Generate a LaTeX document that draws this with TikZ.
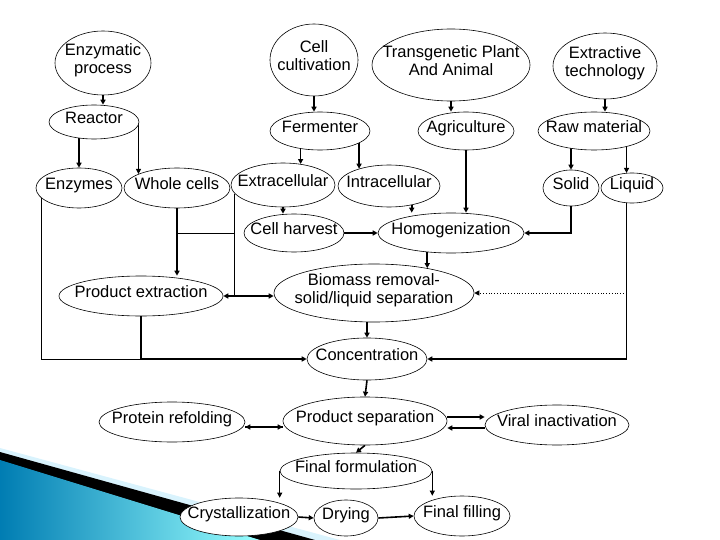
\documentclass[tikz,border=0pt]{standalone}
\usepackage{fontspec}
\setmainfont{Liberation Sans}
\usetikzlibrary{shapes.geometric,arrows.meta,calc}
\pgfdeclarelayer{deco}\pgfdeclarelayer{bg}
\pgfsetlayers{deco,bg,main}
\tikzset{
  e/.style={ellipse,draw,fill=white,inner sep=0pt,font=\fontsize{16.5}{18}\selectfont,line width=0.6pt},
  arr/.style={line width=1.6pt,-{Triangle[length=5pt,width=5pt]}},
  ln/.style={line width=0.8pt},
  tarr/.style={line width=0.8pt,-{Triangle[length=5pt,width=5pt]}},
}
\newcommand{\el}[6]{\node[e,minimum width=#4pt,minimum height=#5pt] (#1) at (#2,#3) {\raisebox{-0.3em}{\makebox[0pt]{\smash{\begin{tabular}{@{}c@{}}#6\end{tabular}}}}};}
\begin{document}
\begin{tikzpicture}[x=1pt,y=-1pt]
\useasboundingbox (0,0) rectangle (720,540);
\begin{pgfonlayer}{deco}
\fill[cyan!15] (0,448) -- (340,540) -- (0,540) -- cycle;
\fill[black] (0,452) -- (315,540) -- (0,540) -- cycle;
\shade[left color=cyan!70!blue!70!black,right color=cyan!40] (0,460) -- (260,540) -- (0,540) -- cycle;
\end{pgfonlayer}
% nodes
\el{enzp}{103}{63}{96}{64}{Enzymatic\\process}
\el{cell}{314}{60}{88}{72}{Cell\\cultivation}
\el{trans}{451}{65}{158}{72}{Transgenetic Plant\\And Animal}
\el{extr}{605}{66}{104}{66}{Extractive\\technology}
\el{reac}{94}{122}{90}{34}{Reactor}
\el{ferm}{320}{131}{100}{38}{Fermenter}
\el{agri}{466}{131}{96}{38}{Agriculture}
\el{raw}{594}{131}{112}{38}{Raw material}
\el{enzy}{79}{188}{86}{40}{Enzymes}
\el{whole}{177}{188}{106}{40}{Whole cells}
\el{extra}{283}{185}{104}{44}{Extracellular}
\el{intra}{389}{186}{102}{42}{Intracellular}
\el{solid}{571}{188}{56}{36}{Solid}
\el{liq}{632}{188}{62}{30}{Liquid}
\el{harv}{294}{233}{100}{38}{Cell harvest}
\el{homog}{451}{233}{146}{40}{Homogenization}
\el{prodext}{141}{296}{164}{40}{Product extraction}
\el{bio}{374}{293}{200}{58}{Biomass removal-\\solid/liquid separation}
\el{conc}{367}{359}{120}{42}{Concentration}
\el{prot}{172}{422}{146}{40}{Protein refolding}
\el{psep}{365}{421}{164}{48}{Product separation}
\el{viral}{557}{425}{144}{40}{Viral inactivation}
\el{ff}{356}{471}{152}{36}{Final formulation}
\el{cryst}{239}{517}{118}{38}{Crystallization}
\el{dry}{346}{518}{64}{36}{Drying}
\el{fill}{462}{516}{96}{40}{Final filling}
\begin{pgfonlayer}{bg}
\draw[arr] (enzp.south) -- (enzp.south |- reac.north);
\draw[arr] (cell.south) -- (cell.south |- ferm.north);
\draw[arr] (trans.south) -- (trans.south |- agri.north);
\draw[arr] (extr.south) -- (extr.south |- raw.north);
\draw[arr] (enzy.north |- reac) -- (enzy.north);
\draw[tarr] (whole.160 |- reac) -- (whole.160);
\draw[arr] (extra.50 |- ferm) -- (extra.50);
\draw[arr] (intra.150 |- ferm) -- (intra.150);
\draw[arr] (agri.south) -- (agri.south |- homog.north);
\draw[arr] (solid.north |- raw) -- (solid.north);
\draw[arr] (liq.110 |- raw) -- (liq.110);
\draw[arr] (extra.south) -- (extra.south |- harv.north);
\draw[arr] (intra.-40) -- (intra.-40 |- homog.north);
\draw[arr] (harv.east) -- (homog.west);
\draw[arr] (solid.south) |- (homog.east);
\draw[arr] (bio.25 |- homog) -- (bio.25);
\draw[arr] (liq.-110) |- (conc.east);
\draw[tarr,dotted] (liq.-110 |- bio.east) -- (bio.east);
\draw[arr] (conc.north |- bio) -- (conc.north);
\draw[arr] (whole.south) -- (whole.south |- prodext.north);
\draw[ln] (whole.south |- harv) -- (extra.190 |- harv);
\coordinate (j) at (extra.190 |- prodext.east);
\draw[ln] (extra.190) -- (j);
\draw[arr] (j) -- (prodext.east);
\draw[arr] (j) -- (bio.west |- j);
\draw[ln] (enzy.195) -- (enzy.195 |- conc) -- (prodext.south |- conc);
\draw[arr] (prodext.south) |- (conc.west);
\draw[arr] (conc.south) -- (psep.north);
\draw[arr] ([yshift=-5pt]prot.east) -- ([yshift=-5pt]prot.east -| psep.west);
\draw[arr] ([yshift=-5pt]psep.west |- prot.east) -- ([yshift=-5pt]prot.east);
\draw[arr] ([yshift=4pt]psep.east) -- ([yshift=4pt]psep.east -| viral.west);
\draw[arr] ([yshift=-7pt]psep.east -| viral.west) -- ([yshift=-7pt]psep.east);
\draw[arr] (psep.south) -- (ff.north);
\draw[ln,-{Triangle[length=5pt,width=5pt]}] (ff.west) -- (ff.west |- cryst.north);
\draw[ln,-{Triangle[length=5pt,width=5pt]}] (ff.east) -- (ff.east |- fill.north);
\draw[arr] (cryst.east) -- (dry.west);
\draw[arr] (dry.east) -- (fill.west);
\end{pgfonlayer}
\end{tikzpicture}
\end{document}
